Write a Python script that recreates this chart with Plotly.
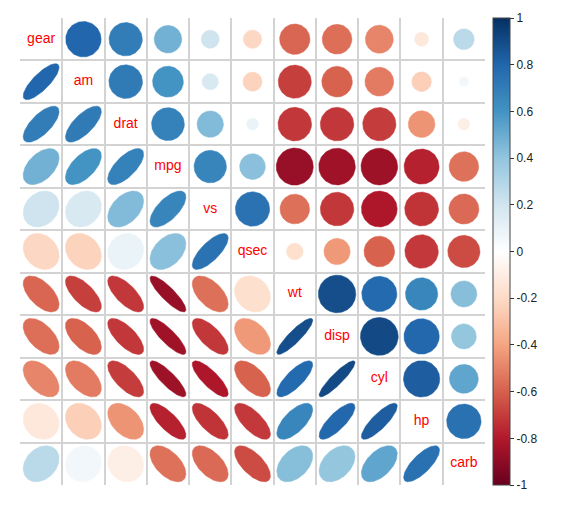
import numpy as np
import plotly.graph_objects as go

variables = ["gear", "am", "drat", "mpg", "vs", "qsec", "wt", "disp", "cyl", "hp", "carb"]

r_gear = [1.000, 0.794, 0.700, 0.480, 0.206, -0.213, -0.583, -0.556, -0.493, -0.126, 0.274]
r_am   = [0.794, 1.000, 0.713, 0.600, 0.168, -0.230, -0.692, -0.591, -0.523, -0.243, 0.058]
r_drat = [0.700, 0.713, 1.000, 0.681, 0.440, 0.091, -0.712, -0.710, -0.700, -0.449, -0.091]
r_mpg  = [0.480, 0.600, 0.681, 1.000, 0.664, 0.419, -0.868, -0.848, -0.852, -0.776, -0.551]
r_vs   = [0.206, 0.168, 0.440, 0.664, 1.000, 0.745, -0.555, -0.710, -0.811, -0.723, -0.570]
r_qsec = [-0.213, -0.230, 0.091, 0.419, 0.745, 1.000, -0.175, -0.434, -0.591, -0.708, -0.656]
r_wt   = [-0.583, -0.692, -0.712, -0.868, -0.555, -0.175, 1.000, 0.888, 0.782, 0.659, 0.428]
r_disp = [-0.556, -0.591, -0.710, -0.848, -0.710, -0.434, 0.888, 1.000, 0.902, 0.791, 0.395]
r_cyl  = [-0.493, -0.523, -0.700, -0.852, -0.811, -0.591, 0.782, 0.902, 1.000, 0.832, 0.527]
r_hp   = [-0.126, -0.243, -0.449, -0.776, -0.723, -0.708, 0.659, 0.791, 0.832, 1.000, 0.750]
r_carb = [0.274, 0.058, -0.091, -0.551, -0.570, -0.656, 0.428, 0.395, 0.527, 0.750, 1.000]

colorbar_ticks = [1, 0.8, 0.6, 0.4, 0.2, 0, -0.2, -0.4, -0.6, -0.8, -1]

palette = ["#67001F", "#B2182B", "#D6604D", "#F4A582", "#FDDBC7", "#FFFFFF",
           "#D1E5F0", "#92C5DE", "#4393C3", "#2166AC", "#053061"]

corr = np.array([r_gear, r_am, r_drat, r_mpg, r_vs, r_qsec, r_wt, r_disp, r_cyl, r_hp, r_carb])
n = len(variables)


def hex2rgb(h):
    h = h.lstrip("#")
    return np.array([int(h[i:i + 2], 16) for i in (0, 2, 4)], dtype=float)


pal_rgb = np.array([hex2rgb(c) for c in palette])
pal_pos = np.linspace(-1, 1, len(palette))


def color_of(v):
    rgb = [np.interp(v, pal_pos, pal_rgb[:, k]) for k in range(3)]
    return "rgb(%d,%d,%d)" % tuple(int(round(c)) for c in rgb)


colorscale = [[(p + 1) / 2, c] for p, c in zip(pal_pos, palette)]

fig = go.Figure()
k = np.linspace(0, 2 * np.pi, 99)

for i in range(n):
    for j in range(n):
        if i == j:
            continue
        v = corr[i, j]
        cx = j + 1
        cy = n - i
        if j > i:
            rad = 0.47 * np.sqrt(abs(v))
            xs = cx + rad * np.cos(k)
            ys = cy + rad * np.sin(k)
        else:
            a = np.arccos(v)
            xs = cx + 0.85 * np.cos(k + a / 2) / 2
            ys = cy + 0.85 * np.cos(k - a / 2) / 2
        col = color_of(v)
        fig.add_trace(go.Scatter(x=xs, y=ys, mode="lines", fill="toself",
                                 fillcolor=col, line=dict(color=col, width=0.5),
                                 hoverinfo="skip", showlegend=False))

fig.add_trace(go.Scatter(
    x=[i + 1 for i in range(n)], y=[n - i for i in range(n)],
    mode="text", text=variables,
    textfont=dict(family="Liberation Sans, Arial", size=14, color="#FF0000"),
    hoverinfo="skip", showlegend=False))

fig.add_trace(go.Scatter(
    x=[None], y=[None], mode="markers",
    marker=dict(size=0, opacity=0, line=dict(width=0), color=[0],
                colorscale=colorscale, cmin=-1, cmax=1,
                showscale=True,
                colorbar=dict(x=1.0165, xanchor="left", xpad=0, ypad=0,
                              y=0.5, yanchor="middle", len=1, lenmode="fraction",
                              thickness=17, thicknessmode="pixels",
                              outlinewidth=1, outlinecolor="#444444",
                              ticks="outside", ticklen=4, tickcolor="#333333",
                              tickwidth=1,
                              tickvals=colorbar_ticks,
                              ticktext=[("%g" % t) for t in colorbar_ticks],
                              tickfont=dict(family="Liberation Sans, Arial", size=12, color="#222222"))),
    hoverinfo="skip", showlegend=False))

grid_vals = [g + 0.5 for g in range(n + 1)]
axis_common = dict(showgrid=True, gridcolor="#D3D3D3", gridwidth=1.5,
                   zeroline=False, showticklabels=False, ticks="",
                   tickvals=grid_vals, showline=False, fixedrange=True)

fig.update_layout(
    width=562, height=503,
    margin=dict(l=12, r=85, t=10, b=26),
    paper_bgcolor="white", plot_bgcolor="white",
    xaxis=dict(range=[0.5, n + 0.5], **axis_common),
    yaxis=dict(range=[0.5, n + 0.5], **axis_common),
)

fig.write_html("out.html")
